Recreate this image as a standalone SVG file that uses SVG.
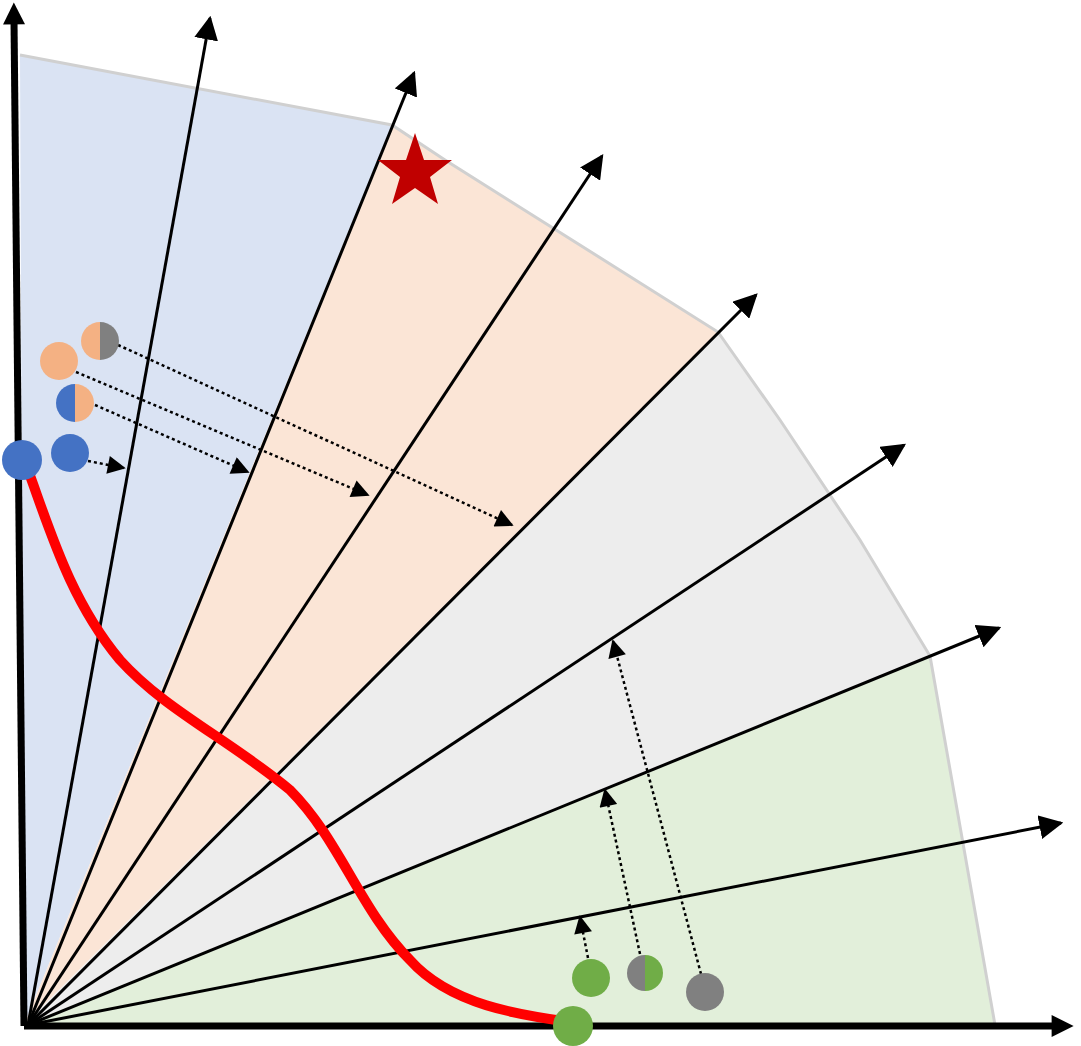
<svg xmlns="http://www.w3.org/2000/svg" width="1081" height="1046" viewBox="0 0 1081 1046">
<defs>
<marker id="ah" viewBox="0 0 10 10" refX="2" refY="5" markerWidth="24" markerHeight="22" orient="auto" markerUnits="userSpaceOnUse"><path d="M0,0L10,5L0,10z" fill="#000"/></marker>
<marker id="big" viewBox="0 0 10 10" refX="9" refY="5" markerWidth="8" markerHeight="8" orient="auto"><path d="M0,0L10,5L0,10z" fill="#000"/></marker>
<marker id="dm" viewBox="0 0 10 10" refX="9" refY="5" markerWidth="20" markerHeight="18" orient="auto" markerUnits="userSpaceOnUse"><path d="M0,0L10,5L0,10z" fill="#000"/></marker>
</defs>
<style>
.ray{stroke:#000;stroke-width:3;fill:none;marker-end:url(#big)}
.dot{stroke:#000;stroke-width:2.5;stroke-dasharray:3 3;fill:none;marker-end:url(#dm)}
</style>
<g id="sectors">
<path d="M24,1025 L20,55 L392,125 Z" fill="#dae3f3"/>
<path d="M24,1025 L392,125 L445,160 L718,332 Z" fill="#fbe5d6"/>
<path d="M24,1025 L718,332 L780,420 L860,540 L930,656 Z" fill="#ededed"/>
<path d="M24,1025 L930,656 L995,1025 Z" fill="#e2efda"/>
<path d="M20,55 L392,125 L445,160 L718,332 L780,420 L860,540 L930,656 L995,1025" fill="none" stroke="#d0d0d0" stroke-width="3"/>
</g>
<g id="connectors">
<line class="ray" x1="28" y1="1025" x2="210" y2="18"/>
<line class="ray" x1="28" y1="1025" x2="414" y2="73"/>
<line class="ray" x1="28" y1="1025" x2="602" y2="156"/>
<line class="ray" x1="28" y1="1025" x2="756" y2="295"/>
<line class="ray" x1="28" y1="1025" x2="904" y2="445"/>
<line class="ray" x1="28" y1="1025" x2="999" y2="628"/>
<line class="ray" x1="28" y1="1025" x2="1061" y2="823"/>
<line x1="24" y1="1026" x2="1056" y2="1026" stroke="#000" stroke-width="7" marker-end="url(#ah)"/>
<line x1="24" y1="1026" x2="14" y2="20" stroke="#000" stroke-width="7" marker-end="url(#ah)"/>
<line class="dot" x1="118" y1="345" x2="512" y2="525"/>
<line class="dot" x1="76" y1="372" x2="368" y2="495"/>
<line class="dot" x1="95" y1="405" x2="248" y2="472"/>
<line class="dot" x1="88" y1="461" x2="124" y2="468"/>
<line class="dot" x1="701" y1="974" x2="613" y2="641"/>
<line class="dot" x1="640" y1="954" x2="605" y2="790"/>
<line class="dot" x1="588" y1="958" x2="580" y2="917"/>
<path d="M28,470 C50,530 70,600 120,660 C165,710 230,740 290,790 C340,840 360,910 410,960 C450,1005 520,1015 570,1022" fill="none" stroke="#ff0000" stroke-width="10"/>
</g>
<g id="star"><polygon points="415,133 424,160 452,160 430,177 438,204 415,188 392,204 400,177 378,160 406,160" fill="#c00000"/></g>
<g id="nodes">
<g id="n1"><path d="M100,322 a19,19 0 0 0 0,38z" fill="#f4b183"/><path d="M100,322 a19,19 0 0 1 0,38z" fill="#808080"/></g>
<circle id="n2" cx="59" cy="361" r="19" fill="#f4b183"/>
<g id="n3"><path d="M75,384 a19,19 0 0 0 0,38z" fill="#4472c4"/><path d="M75,384 a19,19 0 0 1 0,38z" fill="#f4b183"/></g>
<circle id="n4" cx="70" cy="453" r="19" fill="#4472c4"/>
<circle id="n5" cx="22" cy="460" r="20" fill="#4472c4"/>
<circle id="n6" cx="591" cy="978" r="19" fill="#70ad47"/>
<g id="n7"><path d="M645,955 a18,18 0 0 0 0,36z" fill="#808080"/><path d="M645,955 a18,18 0 0 1 0,36z" fill="#70ad47"/></g>
<circle id="n8" cx="705" cy="992" r="19" fill="#808080"/>
<circle id="n9" cx="573" cy="1026" r="20" fill="#70ad47"/>
</g>
</svg>
